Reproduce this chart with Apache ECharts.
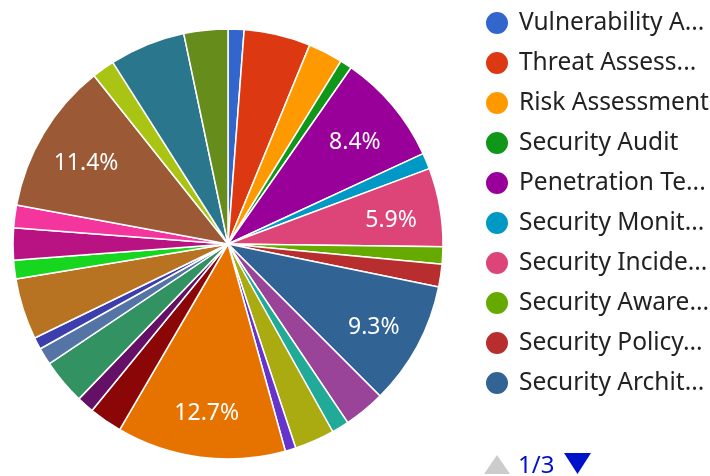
<!DOCTYPE html>
<html>
<head>
    <meta charset="utf-8"/>
    <title>Security Services</title>
    <style>
        html, body { margin: 0; padding: 0; background: #fff; }
        #chart { width: 710px; height: 476px; }
    </style>
</head>
<body>
<div id="chart"></div>
<script src="https://cdn.jsdelivr.net/npm/echarts@6/dist/echarts.min.js"></script>
<script>
    // 分类名称
    var names = [
        'Vulnerability Assessment', 'Threat Assessment', 'Risk Assessment', 'Security Audit',
        'Penetration Testing', 'Security Monitoring', 'Security Incident Response',
        'Security Awareness Training', 'Security Policy Review', 'Security Architecture Review',
        'Security Compliance', 'Access Control', 'Identity Management', 'Data Protection',
        'Network Security', 'Endpoint Security', 'Cloud Security', 'Application Security',
        'Encryption Services', 'Firewall Management', 'Intrusion Detection', 'Malware Analysis',
        'Digital Forensics', 'Patch Management', 'Threat Intelligence', 'Disaster Recovery',
        'Business Continuity', 'Security Consulting'
    ];
    // 数值
    var values = [
        12, 50, 26, 9, 84, 12, 59, 13, 17, 93,
        31, 13, 30, 8, 127, 25, 13, 34, 13, 9,
        46, 14, 24, 17, 114, 17, 57, 33
    ];
    // 颜色
    var colors = [
        '#3366cc', '#dc3912', '#ff9900', '#109618', '#990099', '#0099c6', '#dd4477',
        '#66aa00', '#b82e2e', '#316395', '#994499', '#22aa99', '#aaaa11', '#6633cc',
        '#e67300', '#8b0707', '#651067', '#329262', '#5574a6', '#3b3eac', '#b77322',
        '#16d620', '#b91383', '#f4359e', '#9c5935', '#a9c413', '#2a778d', '#668d1c'
    ];

    // 图例每页条数
    var perPage = 10;
    var pageCount = Math.ceil(names.length / perPage);

    var pieData = names.map(function (n, i) {
        return {name: n, value: values[i]};
    });

    var myChart = echarts.init(document.getElementById('chart'));
    var option = {
        color: colors,
        textStyle: {fontFamily: 'Noto Sans'},
        legend: {
            orient: 'vertical',
            left: 479,
            top: 5,
            icon: 'circle',
            itemWidth: 34,
            itemHeight: 24,
            itemGap: 14,
            data: names.slice(0, perPage),
            textStyle: {
                fontSize: 24.5,
                color: '#222222',
                width: 194,
                overflow: 'truncate'
            }
        },
        // 图例翻页
        graphic: [
            {
                type: 'polygon',
                silent: true,
                shape: {points: [[484, 474], [510, 474], [497, 455]]},
                style: {fill: '#cccccc'}
            },
            {
                type: 'text',
                silent: true,
                left: 518,
                top: 454,
                style: {
                    text: '1/' + pageCount,
                    fill: '#0011cc',
                    font: '24px "Noto Sans"'
                }
            },
            {
                type: 'polygon',
                silent: true,
                shape: {points: [[564, 453], [591, 453], [577.5, 474]]},
                style: {fill: '#0011cc'}
            }
        ],
        series: [
            {
                name: 'services',
                type: 'pie',
                center: [228, 244],
                radius: 215,
                startAngle: 90,
                clockwise: true,
                avoidLabelOverlap: false,
                itemStyle: {
                    borderColor: '#ffffff',
                    borderWidth: 1.5
                },
                label: {show: false},
                labelLine: {show: false},
                emphasis: {disabled: true},
                data: pieData
            },
            {
                // 只用来放百分比文字
                name: 'labels',
                type: 'pie',
                center: [228, 244],
                radius: [110, 215],
                startAngle: 90,
                clockwise: true,
                silent: true,
                legendHoverLink: false,
                avoidLabelOverlap: false,
                itemStyle: {color: 'rgba(0,0,0,0)', borderWidth: 0},
                label: {
                    show: true,
                    position: 'inside',
                    offset: [0, 5],
                    color: '#ffffff',
                    fontSize: 23,
                    fontFamily: 'Noto Sans',
                    formatter: function (p) {
                        return p.percent >= 5.8 ? p.percent.toFixed(1) + '%' : '';
                    }
                },
                labelLine: {show: false},
                emphasis: {disabled: true},
                data: pieData
            }
        ]
    };
    myChart.setOption(option);

    window.onresize = function () {
        myChart.resize();
    };
</script>
</body>
</html>
